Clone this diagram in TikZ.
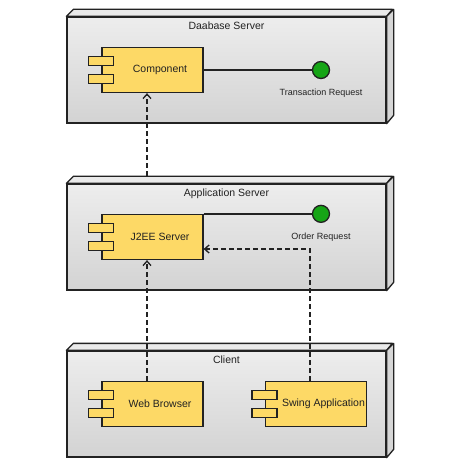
\documentclass[tikz,border=0pt]{standalone}
\usepackage{fontspec}
\setmainfont{Liberation Sans}
\usetikzlibrary{arrows.meta,positioning}
\definecolor{compfill}{HTML}{FDD966}
\definecolor{ifgreen}{HTML}{16A516}
\definecolor{nodetop}{HTML}{EDEDED}
\definecolor{nodebot}{HTML}{D3D3D3}
\definecolor{nodelid}{HTML}{EAEAEA}
\definecolor{nodeside}{HTML}{D6D6D6}
\definecolor{ink}{HTML}{222222}
\begin{document}
\begin{tikzpicture}[x=1pt,y=-1pt,
    face/.style={draw=ink, line width=1.3pt, top color=nodetop, bottom color=nodebot,
        minimum width=319pt, minimum height=106pt, inner sep=0pt},
    title/.style={text=ink, font=\fontsize{10.5}{12}\selectfont},
    comp/.style={draw=ink, line width=1.3pt, fill=compfill, minimum width=101pt, minimum height=45pt,
        inner sep=0pt, text=ink, font=\fontsize{10.5}{12}\selectfont, execute at begin node=\hspace*{15pt}},
    port/.style={draw=ink, line width=1.3pt, fill=compfill, minimum width=25pt, minimum height=9pt, inner sep=0pt},
    iface/.style={circle, draw=ink, line width=1.3pt, fill=ifgreen, minimum size=17pt, inner sep=0pt},
    iflabel/.style={text=ink, font=\fontsize{9}{11}\selectfont},
    dep/.style={draw=ink, line width=1.3pt, dash pattern=on 5pt off 3pt, -{Straight Barb[length=4.5pt,width=8pt]}}]
    \useasboundingbox (0,0) rectangle (474,468);
    \fill[white] (0,0) rectangle (474,468);
    \foreach \ya/\nm/\txt in {70/db/Daabase Server, 237/app/Application Server, 404/cli/Client}
    {
        \node[face] (\nm) at (226.5,\ya) {};
        \filldraw[draw=ink, line width=1.3pt, fill=nodelid, line join=round] (\nm.north west) -- ++(7,-7) -- ++(319,0) -- (\nm.north east) -- cycle;
        \filldraw[draw=ink, line width=1.3pt, fill=nodeside, line join=round] (\nm.north east) -- ++(7,-7) -- ++(0,106) -- (\nm.south east) -- cycle;
        \node[title, below=2pt] (\nm-t) at (\nm.north) {\txt};
    }
    \node[comp] (comp) at (152.5,70) {Component};
    \node[comp] (j2ee) at (152.5,237) {J2EE Server};
    \node[comp] (web) at (152.5,404) {Web Browser};
    \node[comp] (swing) at (316,404) {Swing Application};
    \foreach \c in {comp,j2ee,web,swing}
    {
        \node[port] (\c-pa) at ([xshift=-0.5pt,yshift=9pt]\c.west) {};
        \node[port] (\c-pb) at ([xshift=-0.5pt,yshift=-9pt]\c.west) {};
    }
    \draw[ink, line width=1.3pt] (comp.east) -- (comp.east -| 321,0) coordinate (txat);
    \draw[ink, line width=1.3pt] (j2ee.north east) -- (j2ee.north east -| 321,0) coordinate (ordat);
    \node[iface] (txif) at (txat) {};
    \node[iflabel, below=6pt of txif] (txlabel) {Transaction Request};
    \node[iface] (ordif) at (ordat) {};
    \node[iflabel, below=6pt of ordif] (ordlabel) {Order Request};
    \coordinate (appdep) at (147,176);
    \draw[dep] (appdep) -- (appdep |- comp.south);
    \draw[dep] ([xshift=-5.5pt]web.north) -- ([xshift=-5.5pt]j2ee.south);
    \draw[dep] ([xshift=-6pt]swing.north) |- ([yshift=-12pt]j2ee.east);
\end{tikzpicture}
\end{document}
